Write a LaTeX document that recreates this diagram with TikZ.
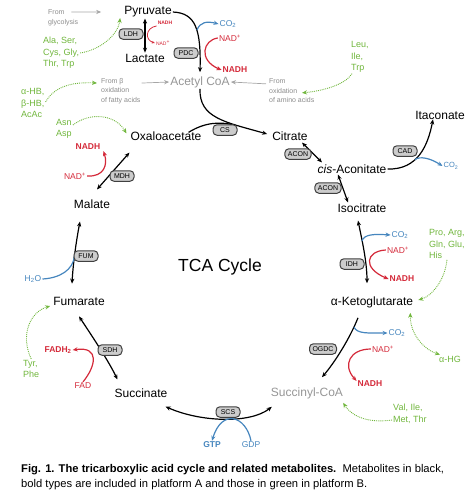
\documentclass[tikz,border=0pt]{standalone}
\usepackage{fontspec}
\setmainfont{Liberation Sans}
\usetikzlibrary{arrows.meta}

\definecolor{aagreen}{RGB}{112,182,60}
\definecolor{cofred}{RGB}{212,42,58}
\definecolor{cofblue}{RGB}{70,134,190}
\definecolor{metgray}{RGB}{150,150,150}
\definecolor{notegray}{RGB}{140,140,140}

\tikzset{
  metab/.style={inner sep=1pt, font=\fontsize{12}{14}\selectfont},
  metabgray/.style={metab, text=metgray},
  enzyme/.style={draw=black!75, fill=gray!40, line width=1pt, rounded corners=4pt,
    inner xsep=3pt, inner ysep=1.2pt, minimum width=24pt, minimum height=10.5pt,
    font=\fontsize{7}{8}\selectfont},
  cofac/.style={inner sep=1pt, font=\fontsize{8.5}{10}\selectfont},
  cored/.style={cofac, text=cofred},
  coredb/.style={cofac, text=cofred, font=\fontsize{8.5}{10}\selectfont\bfseries},
  coblue/.style={cofac, text=cofblue},
  aminos/.style={inner sep=1pt, text=aagreen, align=left, font=\fontsize{9}{11.5}\selectfont},
  note/.style={inner sep=1pt, text=notegray, align=left, font=\fontsize{7}{9.5}\selectfont},
  rxn/.style={black, line width=1.2pt},
  rxnred/.style={cofred, line width=1.2pt},
  rxnblue/.style={cofblue, line width=1.2pt},
  feed/.style={aagreen, line width=0.9pt, densely dotted},
  grayfeed/.style={black!35, line width=0.7pt}
}

\begin{document}
\begin{tikzpicture}[x=1pt, y=-1pt, >={Stealth[length=5pt,width=4.2pt]}]
  \useasboundingbox (0,0) rectangle (474,491);

  % metabolites
  \node[metab] (pyr) at (148,12) {Pyruvate};
  \node[metab] (lac) at (145,58) {Lactate};
  \node[metabgray] (acoa) at (200,82) {Acetyl CoA};
  \node[metab] (oaa) at (166,136) {Oxaloacetate};
  \node[metab] (cit) at (290,136) {Citrate};
  \node[metab] (cisa) at (352,169) {\textit{cis}-Aconitate};
  \node[metab] (ita) at (440,115) {Itaconate};
  \node[metab] (iso) at (362,208) {Isocitrate};
  \node[metab] (akg) at (372,302) {α-Ketoglutarate};
  \node[metabgray] (sca) at (307,393) {Succinyl-CoA};
  \node[metab] (suc) at (141,393) {Succinate};
  \node[metab] (fum) at (79,301) {Fumarate};
  \node[metab] (mal) at (92,204) {Malate};
  \node[font=\fontsize{17.5}{20}\selectfont] (tca) at (220,267) {TCA Cycle};

  % side notes
  \node[note, anchor=west] (glyc) at (47,18) {From\\glycolysis};
  \node[note, anchor=west] (fatty) at (100,91) {From β\\oxidation\\of fatty acids};
  \node[note, anchor=west] (amox) at (268,91) {From\\oxidation\\of amino acids};

  % green metabolites
  \node[aminos, anchor=west] (alaser) at (42,53) {Ala, Ser,\\Cys, Gly,\\Thr, Trp};
  \node[aminos, anchor=west] (ketones) at (20,103) {α-HB,\\β-HB,\\AcAc};
  \node[aminos, anchor=west] (asnasp) at (55,129) {Asn\\Asp};
  \node[aminos, anchor=west] (leuile) at (350,57) {Leu,\\Ile,\\Trp};
  \node[aminos, anchor=west] (proarg) at (428,244) {Pro, Arg,\\Gln, Glu,\\His};
  \node[aminos] (ahg) at (450,359) {α-HG};
  \node[aminos, anchor=west] (valile) at (392,414) {Val, Ile,\\Met, Thr};
  \node[aminos, anchor=west] (tyrphe) at (22,369) {Tyr,\\Phe};

  % cofactors
  \node[cored, font=\fontsize{5}{6}\selectfont\bfseries] (ldhnadh) at (165,23) {NADH};
  \node[cored, font=\fontsize{5}{6}\selectfont] (ldhnad) at (163,43) {NAD\textsuperscript{+}};
  \node[coblue] (pdcco2) at (228,24) {CO\textsubscript{2}};
  \node[cored] (pdcnad) at (230,38) {NAD\textsuperscript{+}};
  \node[coredb] (pdcnadh) at (235,70) {NADH};
  \node[coblue, font=\fontsize{7.5}{9}\selectfont] (cadco2) at (451,166) {CO\textsubscript{2}};
  \node[coblue] (idhco2) at (400,235) {CO\textsubscript{2}};
  \node[cored] (idhnad) at (398,250) {NAD\textsuperscript{+}};
  \node[coredb] (idhnadh) at (402,279) {NADH};
  \node[coblue] (ogdcco2) at (397,333) {CO\textsubscript{2}};
  \node[cored] (ogdcnad) at (383,349) {NAD\textsuperscript{+}};
  \node[coredb] (ogdcnadh) at (370,384) {NADH};
  \node[coblue, font=\fontsize{8.5}{10}\selectfont\bfseries] (gtp) at (212,445) {GTP};
  \node[coblue] (gdp) at (251,445) {GDP};
  \node[coredb] (fadh) at (58,350) {FADH\textsubscript{2}};
  \node[cored] (fad) at (83,386) {FAD};
  \node[coblue] (h2o) at (33,279) {H\textsubscript{2}O};
  \node[cored] (mdhnad) at (75,176) {NAD\textsuperscript{+}};
  \node[coredb] (mdhnadh) at (88,147) {NADH};

  % forks on the reaction lines
  \coordinate (pdcfork) at (197,30);
  \coordinate (csmerge) at (232,124.5);
  \coordinate (cadfork) at (415,159.5);
  \coordinate (idhfork) at (362,241);
  \coordinate (ogdcfork) at (354,327);
  \coordinate (fumfork) at (74.5,256);

  % pyruvate side
  \draw[rxn, <->] (pyr.south -| lac) -- (lac.north);
  \draw[rxnred, line width=0.8pt, ->, >={Stealth[length=3pt,width=2.6pt]}] (ldhnadh.south west) .. controls (145,28) and (145,40) .. (ldhnad.west);
  \draw[rxn, ->] (pyr.east) .. controls (196,13) and (201,30) .. ([yshift=3pt]acoa.north);
  \draw[rxnblue, ->] (pdcfork) .. controls (200,22) and (207,21) .. (pdcco2.west);
  \draw[rxnred, ->] (pdcnad.west) .. controls (203,40) and (198,60) .. (pdcnadh.west);

  % citrate synthase
  \draw[rxn, ->] (acoa.south) .. controls (199,118) and (225,122) .. ([xshift=-4pt,yshift=2pt]cit.west);
  \draw[rxn] ([xshift=-14pt,yshift=-2pt]oaa.north east) .. controls (205,122) and (220,122) .. (csmerge);

  % aconitase and itaconate
  \draw[rxn, <->] ([xshift=12pt,yshift=-1pt]cit.south) -- ([xshift=-30pt,yshift=1pt]cisa.north);
  \draw[rxn, <->] ([xshift=-14pt]cisa.south) -- ([xshift=-14pt]iso.north);
  \draw[rxn, ->] (cisa.east) .. controls (418,170) and (428,145) .. ([xshift=-7pt,yshift=1pt]ita.south);
  \draw[rxnblue, ->] (cadfork) .. controls (420,156) and (430,158) .. (cadco2.west);

  % isocitrate dehydrogenase
  \draw[rxn, <->] ([xshift=-4pt,yshift=-7pt]iso.south) .. controls (362,240) and (367,262) .. ([xshift=-5pt,yshift=12pt]akg.north);
  \draw[rxnblue, ->] (idhfork) .. controls (364,234) and (375,234) .. (idhco2.west);
  \draw[rxnred, ->] (idhnad.west) .. controls (366,251) and (362,268) .. (idhnadh.west);

  % oxoglutarate dehydrogenase
  \draw[rxn, ->] ([xshift=-14pt,yshift=-9pt]akg.south) .. controls (350,338) and (335,362) .. ([xshift=15pt,yshift=9pt]sca.north);
  \draw[rxnblue, ->] (ogdcfork) .. controls (357,334) and (368,333) .. (ogdcco2.west);
  \draw[rxnred, ->] (ogdcnad.west) .. controls (350,349) and (342,365) .. ([yshift=-1pt]ogdcnadh.north west);

  % succinyl-CoA synthetase
  \draw[rxn, <->] ([xshift=-3pt,yshift=-8pt]suc.south east) .. controls (200,422) and (250,424) .. ([xshift=2pt,yshift=-7pt]sca.south west);
  \draw[rxnblue, ->] (gdp.north) .. controls (246,416) and (222,408) .. (gtp.north);

  % succinate dehydrogenase
  \draw[rxn, <->] ([yshift=-10pt]fum.south) .. controls (92,336) and (108,360) .. ([xshift=4pt,yshift=8pt]suc.north west);
  \draw[rxnred, ->] (fad.north) .. controls (96,366) and (100,346) .. (fadh.east);

  % fumarase
  \draw[rxn, <->] ([xshift=-12pt,yshift=-12pt]mal.south) .. controls (76,242) and (73,265) .. ([xshift=-7pt,yshift=12pt]fum.north);
  \draw[rxnblue] (h2o.east) .. controls (60,278) and (73,270) .. (fumfork);

  % malate dehydrogenase
  \draw[rxn, <->] ([xshift=5pt,yshift=9pt]mal.north) -- ([yshift=-11pt]oaa.south west);
  \draw[rxnred, ->] (mdhnad.east) .. controls (104,177) and (108,165) .. ([xshift=2pt]mdhnadh.south east);

  % feeds
  \draw[grayfeed, ->] ([xshift=-8pt,yshift=-3pt]glyc.north east) -- ([xshift=-22pt]pyr.west);
  \draw[grayfeed, ->] ([yshift=-6pt]fatty.north east) -- (acoa.west);
  \draw[grayfeed, ->] ([xshift=-2pt,yshift=-6pt]amox.north west) -- (acoa.east);
  \draw[feed, ->] (alaser.east) .. controls (100,50) and (118,35) .. ([xshift=-3pt,yshift=-6pt]pyr.west);
  \draw[feed, ->] ([yshift=1pt]ketones.east) .. controls (55,85) and (75,82) .. ([xshift=-3pt,yshift=-6pt]fatty.north west);
  \draw[feed, ->] ([xshift=2pt]leuile.south west) .. controls (345,85) and (322,91) .. ([xshift=34pt,yshift=-15pt]amox.north west);
  \draw[feed, ->] ([yshift=4pt]asnasp.east) .. controls (90,112) and (115,114) .. ([xshift=-3pt,yshift=-3pt]oaa.north west);
  \draw[feed, ->] (proarg.south) .. controls (445,280) and (432,296) .. ([xshift=4pt,yshift=2pt]akg.east);
  \draw[feed, <->] ([xshift=-4pt,yshift=-4pt]akg.south east) .. controls (410,335) and (425,350) .. ([xshift=2pt]ahg.north west);
  \draw[feed, ->] ([yshift=-6pt]valile.west) .. controls (365,424) and (350,414) .. ([xshift=-1pt,yshift=-3pt]sca.south east);
  \draw[feed, ->] (tyrphe.north) .. controls (20,335) and (30,312) .. ([xshift=-2pt,yshift=-5pt]fum.west);

  % enzymes
  \foreach \name/\x/\y/\lbl in {ldh/131/34/LDH, pdc/186/53/PDC, cs/225/130/CS,
      acona/298/154/ACON, aconb/328/188/ACON, cad/405/151/CAD, idh/352/264/IDH,
      ogdc/323/349/OGDC, scs/228/412/SCS, sdh/110/350/SDH, fumh/86/256/FUM, mdh/122/176/MDH}
    \node[enzyme] (\name) at (\x,\y) {\lbl};

  % caption
  \node[anchor=north west, align=left, inner sep=0pt, font=\fontsize{11.2}{15}\selectfont] (caption) at (21,464)
    {\textbf{Fig. 1. The tricarboxylic acid cycle and related metabolites.}\ \ Metabolites in black,\\
     bold types are included in platform A and those in green in platform B.};
\end{tikzpicture}
\end{document}
